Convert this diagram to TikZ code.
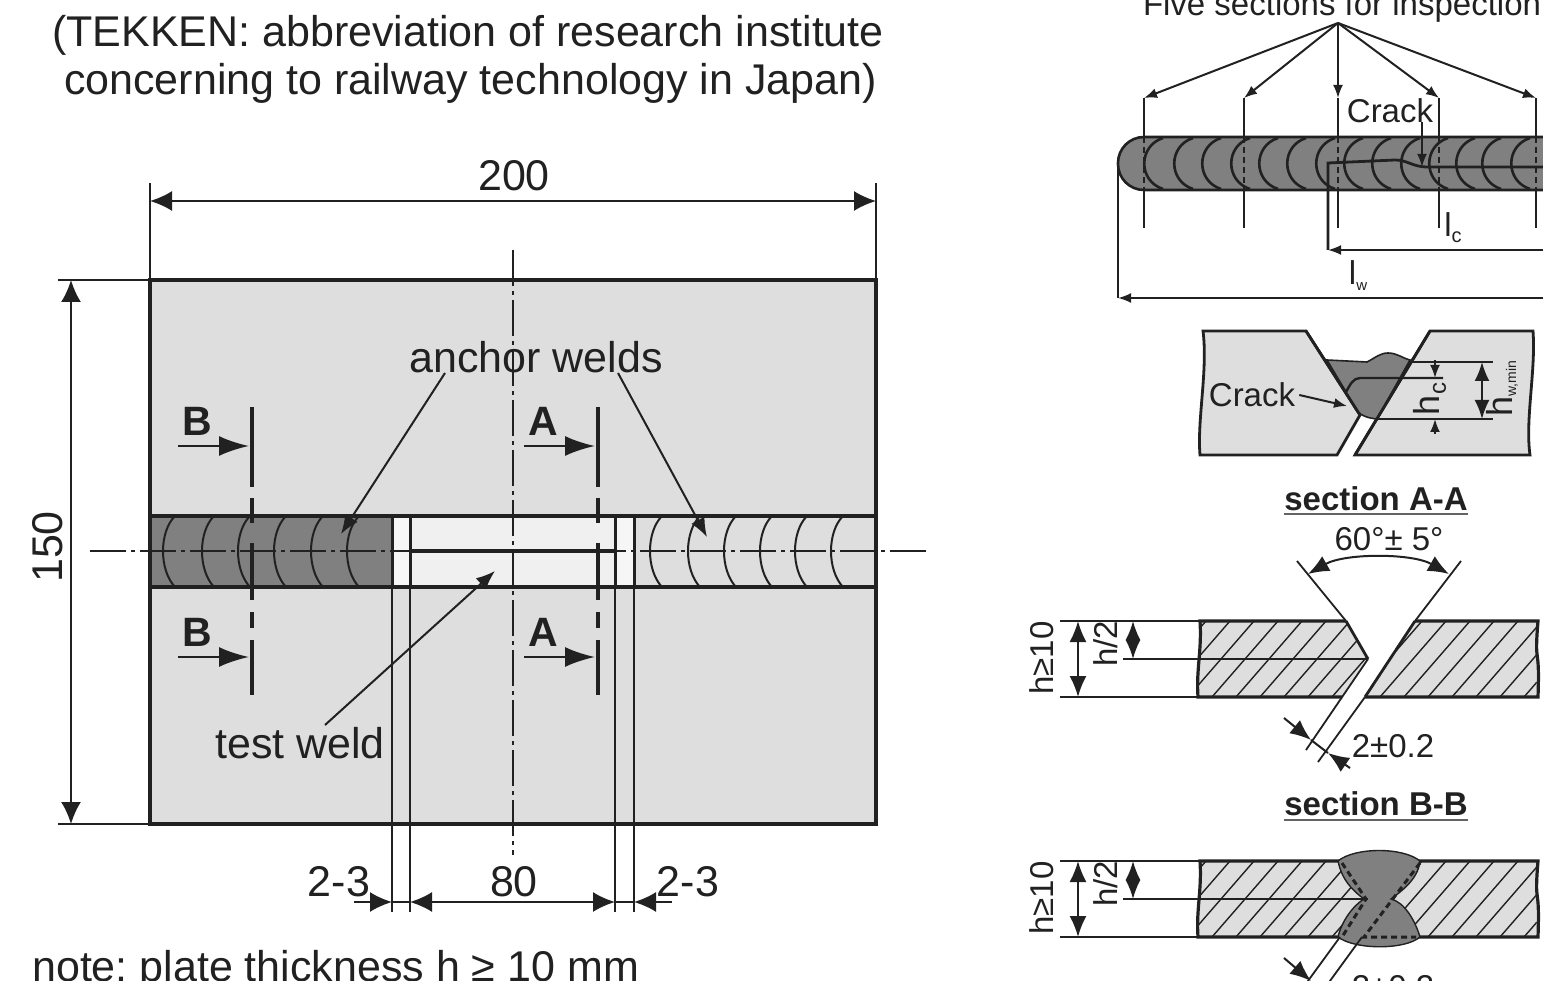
\documentclass[tikz,border=0pt]{standalone}
\usepackage{fontspec}
\setmainfont{Liberation Sans}
\usetikzlibrary{arrows.meta}

\definecolor{plategray}{gray}{0.87}
\definecolor{weldgray}{gray}{0.50}
\definecolor{testgray}{gray}{0.94}
\definecolor{inkgray}{gray}{0.13}

\tikzset{
	x=1pt, y=-1pt,
	bigtip/.tip={Latex[length=22pt,width=20pt]},
	midtip/.tip={Latex[length=19pt,width=15pt]},
	smalltip/.tip={Latex[length=13pt,width=10pt]},
	angletip/.tip={Latex[length=21pt,width=17pt]},
	sectip/.tip={Latex[length=30pt,width=20pt]},
	txt/.style={inner sep=0pt, text=inkgray, font=\fontsize{43}{43}\selectfont},
	txtsmall/.style={inner sep=0pt, text=inkgray, font=\fontsize{33}{33}\selectfont},
	secletter/.style={inner sep=0pt, text=inkgray, font=\fontsize{41}{41}\selectfont\bfseries},
	sectitle/.style={inner sep=0pt, text=inkgray, font=\fontsize{33}{33}\selectfont\bfseries},
	outline/.style={draw=inkgray, line width=3.8pt},
	thin line/.style={draw=inkgray, line width=2pt},
	hatch/.style={draw=inkgray, line width=1.4pt},
	axis/.style={draw=inkgray, line width=1.6pt, dash pattern=on 36pt off 5pt on 4pt off 5pt},
	cutline/.style={draw=inkgray, line width=3.4pt},
}

\begin{document}
\begin{tikzpicture}
	\useasboundingbox (0,0) rectangle (1543,981);
	\fill[white] (0,0) rectangle (1543,981);

	\node(title1) at (468,35) [txt] {(TEKKEN: abbreviation of research institute};
	\node(title2) at (470.5,83) [txt] {concerning to railway technology in Japan)};
	\node(note) at (32,970) [txt, anchor=west] {\frenchspacing note: plate thickness h ≥ 10 mm};

	% plate with the welds
	\fill[plategray] (150,280) rectangle (876,824);
	\fill[weldgray] (150,516) rectangle (392,587);
	\fill[testgray!60!white] (392,516) rectangle (410,587);
	\fill[testgray] (410,516) rectangle (615,587);
	\fill[testgray!60!white] (615,516) rectangle (634,587);
	\foreach \x in {163,202,238,274,311,347} {
		\draw[thin line] (\x+12,516) .. controls (\x-4,532) and (\x-4,570) .. (\x+12,587);
	}
	\foreach \x in {650,688,724,760,795,831} {
		\draw[thin line] (\x+12,516) .. controls (\x-4,532) and (\x-4,570) .. (\x+12,587);
	}
	\draw[outline] (150,280) rectangle (876,824);
	\draw[outline] (150,516) -- (876,516);
	\draw[outline] (150,587) -- (876,587);
	\draw[outline] (410,551) -- (615,551);
	\foreach \x in {392,410,615,634} {
		\draw[line width=3pt, draw=inkgray] (\x,516) -- (\x,587);
		\draw[thin line] (\x,587) -- (\x,912);
	}

	% axes
	\draw[axis] (90,551) -- (926,551);
	\draw[axis] (513,250) -- (513,855);

	% section lines
	\foreach \x in {252,598} {
		\draw[cutline] (\x,407) -- (\x,487);
		\draw[cutline] (\x,498) -- (\x,523);
		\draw[cutline] (\x,543) -- (\x,600);
		\draw[cutline] (\x,612) -- (\x,628);
		\draw[cutline] (\x,640) -- (\x,695);
		\draw[line width=2.4pt, draw=inkgray, -{sectip}] (\x-74,446) -- (\x-3,446);
		\draw[line width=2.4pt, draw=inkgray, -{sectip}] (\x-74,657) -- (\x-3,657);
	}
	\node(B1) at (197,421) [secletter] {B};
	\node(B2) at (197,632) [secletter] {B};
	\node(A1) at (543,421) [secletter] {A};
	\node(A2) at (543,632) [secletter] {A};

	% labels of the welds
	\node(anchors) at (536,357) [txt] {anchor welds};
	\node(testweld) at (300,743) [txt] {test weld};
	\coordinate(anchorL) at (341,534);
	\coordinate(anchorR) at (707,537);
	\coordinate(testtip) at (495,571);
	\draw[thin line, -{midtip}] ([xshift=-91pt]anchors.south) -- (anchorL);
	\draw[thin line, -{midtip}] ([xshift=82pt]anchors.south) -- (anchorR);
	\draw[thin line, -{midtip}] ([xshift=25pt,yshift=2pt]testweld.north) -- (testtip);

	% dimensions of the plate
	\draw[thin line] (150,183) -- (150,280);
	\draw[thin line] (876,183) -- (876,280);
	\draw[thin line, {bigtip}-{bigtip}] (150,201) -- (876,201);
	\node(w200) at (514,176) [txt] {200};
	\draw[thin line] (58,280) -- (150,280);
	\draw[thin line] (58,824) -- (150,824);
	\draw[thin line, {bigtip}-{bigtip}] (71,280) -- (71,824);
	\node(h150) at (48,547) [txt, rotate=90] {150};
	\draw[thin line, {bigtip}-{bigtip}] (410,902) -- (615,902);
	\draw[thin line, -{bigtip}] (354,902) -- (392,902);
	\draw[thin line, -{bigtip}] (672,902) -- (634,902);
	\draw[thin line] (392,902) -- (410,902);
	\draw[thin line] (615,902) -- (634,902);
	\node(w80) at (514,882) [txt] {80};
	\node(gapL) at (339,882) [txt] {2-3};
	\node(gapR) at (688,882) [txt] {2-3};

	% top view of the test weld
	\fill[weldgray, rounded corners=26pt] (1118,137) rectangle (1570,190);
	\foreach \x in {1145,1175,1203,1232,1260,1288,1317,1345,1373,1402,1430,1457,1483,1512} {
		\draw[line width=2.6pt, draw=inkgray] (\x+18,138) .. controls (\x-7,146) and (\x-7,181) .. (\x+18,189);
	}
	\draw[line width=2.6pt, draw=inkgray, rounded corners=26pt] (1118,137) rectangle (1570,190);
	\node(five) at (1342,7) [txtsmall] {Five sections for inspection};
	\coordinate(apex) at (1338,23);
	\foreach \x in {1144,1244,1338,1439,1536} {
		\draw[thin line, -{smalltip}] (apex) -- (\x,98);
		\draw[thin line] (\x,98) -- (\x,137);
		\draw[line width=1.6pt, draw=inkgray, dash pattern=on 6pt off 4pt] (\x,137) -- (\x,190);
		\draw[thin line] (\x,190) -- (\x,228);
	}
	\draw[line width=2.8pt, draw=inkgray] (1328,250) -- (1328,163) -- (1395,160) .. controls (1408,160) and (1412,167) .. (1428,167) -- (1545,167);
	\node(crack1) at (1390,111) [txtsmall] {Crack};
	\coordinate(cracktip) at (1422,167);
	\draw[thin line, -{smalltip}] (1422,122) -- (cracktip);
	\draw[thin line] (1118,165) -- (1118,298);
	\draw[thin line, {smalltip}-] (1328,250) -- (1543,250);
	\draw[thin line, {smalltip}-] (1118,298) -- (1543,298);
	\node(lc) at (1453,228) [txtsmall] {l\raisebox{-6pt}{\fontsize{20}{20}\selectfont c}};
	\node(lw) at (1358,276) [txtsmall] {l\raisebox{-6pt}{\fontsize{15}{15}\selectfont w}};

	% cross section with crack
	\filldraw[fill=plategray, draw=inkgray, line width=2.8pt] (1203,331) -- (1306,331) -- (1360,415) -- (1337,455) -- (1200,455) .. controls (1197,420) and (1208,370) .. cycle;
	\filldraw[fill=plategray, draw=inkgray, line width=2.8pt] (1430,331) -- (1533,331) .. controls (1536,370) and (1525,420) .. (1530,455) -- (1355,455) -- cycle;
	\filldraw[fill=weldgray, draw=inkgray, line width=1.6pt] (1327,360) -- (1367,362) .. controls (1375,358) and (1380,353) .. (1388,353) .. controls (1397,353) and (1402,358) .. (1410,360) -- (1377,419) .. controls (1368,418) and (1362,416) .. (1358,412) -- (1346,392) -- cycle;
	\draw[line width=2.4pt, draw=inkgray] (1346,392) .. controls (1350,385) and (1353,378) .. (1360,378) -- (1443,378);
	\draw[line width=2.8pt, draw=inkgray] (1306,331) -- (1360,415);
	\draw[line width=2.8pt, draw=inkgray] (1430,331) -- (1355,455);
	\draw[thin line] (1411,362) -- (1493,362);
	\draw[thin line] (1377,419) -- (1493,419);
	\draw[thin line, -{smalltip}] (1435,360) -- (1435,378);
	\draw[thin line, -{smalltip}] (1435,434) -- (1435,419);
	\draw[thin line, {midtip}-{midtip}] (1482,362) -- (1482,419);
	\node(crack2) at (1252,395) [txtsmall] {Crack};
	\coordinate(crack2tip) at (1347,406);
	\draw[thin line, -{smalltip}] ([xshift=4pt]crack2.east) -- (crack2tip);
	\node(hc) at (1430,399) [inner sep=0pt, text=inkgray, rotate=90, font=\fontsize{36}{36}\selectfont] {h\raisebox{-6pt}{\fontsize{24}{24}\selectfont c}};
	\node(hw) at (1502,389) [inner sep=0pt, text=inkgray, rotate=90, font=\fontsize{36}{36}\selectfont] {h\raisebox{-4pt}{\fontsize{14}{14}\selectfont w,min}};

	% section A-A
	\node(secA) at (1376,499) [sectitle] {section A-A};
	\draw[line width=2pt, draw=inkgray!70] (secA.west |- 0,514) -- (secA.east |- 0,514);
	\node(angle) at (1389,539) [txtsmall] {60°± 5°};
	\fill[plategray] (1200,621) -- (1346,621) -- (1368,659) -- (1342,697) -- (1198,697) .. controls (1196,670) and (1202,650) .. cycle;
	\fill[plategray] (1415,621) -- (1538,621) .. controls (1540,640) and (1534,670) .. (1538,697) -- (1365,697) -- cycle;
	\begin{scope}
		\clip (1200,621) -- (1346,621) -- (1368,659) -- (1342,697) -- (1198,697) .. controls (1196,670) and (1202,650) .. cycle
			(1415,621) -- (1538,621) .. controls (1540,640) and (1534,670) .. (1538,697) -- (1365,697) -- cycle;
		\foreach \x in {1140,1164,...,1540} {
			\draw[hatch] (\x,697) -- ++(66,-76);
		}
	\end{scope}
	\draw[line width=3.2pt, draw=inkgray] (1346,621) -- (1200,621) .. controls (1202,650) and (1196,670) .. (1198,697) -- (1342,697);
	\draw[line width=3.2pt, draw=inkgray] (1415,621) -- (1538,621) .. controls (1534,670) and (1540,640) .. (1538,697) -- (1365,697);
	\draw[line width=2.8pt, draw=inkgray] (1346,621) -- (1368,659);
	\draw[line width=2.8pt, draw=inkgray] (1415,621) -- (1365,697);
	\draw[line width=1.8pt, draw=inkgray] (1297,561) -- (1346,621);
	\draw[line width=1.8pt, draw=inkgray] (1461,561) -- (1415,621);
	\draw[line width=1.8pt, draw=inkgray] (1368,659) -- (1306,750);
	\draw[line width=1.8pt, draw=inkgray] (1365,697) -- (1318,762);
	\draw[thin line, {angletip}-{angletip}] (1308,574) .. controls (1345,553) and (1412,553) .. (1449,574);
	\draw[thin line, -{angletip}] (1284,718) -- (1311,740);
	\draw[thin line] (1311,740) -- (1328,753);
	\draw[thin line, -{angletip}] (1350,768) -- (1328,753);
	\node(gapA) at (1393,746) [txtsmall] {2±0.2};

	% section B-B
	\node(secB) at (1376,804) [sectitle] {section B-B};
	\draw[line width=2pt, draw=inkgray!70] (secB.west |- 0,820) -- (secB.east |- 0,820);
	\fill[plategray] (1200,861) -- (1538,861) .. controls (1540,880) and (1534,910) .. (1538,937) -- (1198,937) .. controls (1196,910) and (1202,890) .. cycle;
	\begin{scope}
		\clip (1200,861) -- (1538,861) .. controls (1540,880) and (1534,910) .. (1538,937) -- (1198,937) .. controls (1196,910) and (1202,890) .. cycle;
		\foreach \x in {1140,1164,...,1540} {
			\draw[hatch] (\x,937) -- ++(66,-76);
		}
	\end{scope}
	\draw[line width=3.2pt, draw=inkgray] (1200,861) -- (1538,861) .. controls (1534,910) and (1540,880) .. (1538,937) -- (1198,937) .. controls (1196,910) and (1202,890) .. cycle;
	\filldraw[fill=weldgray, draw=inkgray, line width=1.4pt] (1338,861) .. controls (1355,847) and (1403,847) .. (1420,861) .. controls (1418,880) and (1400,892) .. (1391,899) .. controls (1404,902) and (1415,920) .. (1420,937) .. controls (1405,950) and (1355,950) .. (1338,937) .. controls (1342,920) and (1354,905) .. (1364,899) .. controls (1352,890) and (1342,880) .. cycle;
	\draw[line width=3pt, draw=inkgray, dash pattern=on 6pt off 4pt] (1342,863) -- (1366,899) -- (1342,937);
	\draw[line width=3pt, draw=inkgray, dash pattern=on 6pt off 4pt] (1420,863) -- (1364,937) -- (1416,937);
	\draw[line width=1.8pt, draw=inkgray] (1340,937) -- (1305,985);
	\draw[line width=1.8pt, draw=inkgray] (1362,937) -- (1327,985);
	\draw[thin line, -{angletip}] (1284,958) -- (1311,981);
	\node(gapB) at (1393,987) [txtsmall] {2±0.2};

	% height dimensions of both sections
	\foreach \y in {621,861} {
		\draw[thin line] (1060,\y) -- (1200,\y);
		\draw[thin line] (1060,\y+76) -- (1198,\y+76);
		\draw[thin line] (1123,\y+38) -- (1368,\y+38);
		\draw[thin line, {angletip}-{angletip}] (1078,\y) -- (1078,\y+76);
		\draw[thin line, {midtip}-{midtip}] (1133,\y) -- (1133,\y+38);
		\node at (1042,\y+37) [txtsmall, rotate=90] {h≥10};
		\node at (1106,\y+23) [txtsmall, rotate=90] {h/2};
	}
\end{tikzpicture}
\end{document}
